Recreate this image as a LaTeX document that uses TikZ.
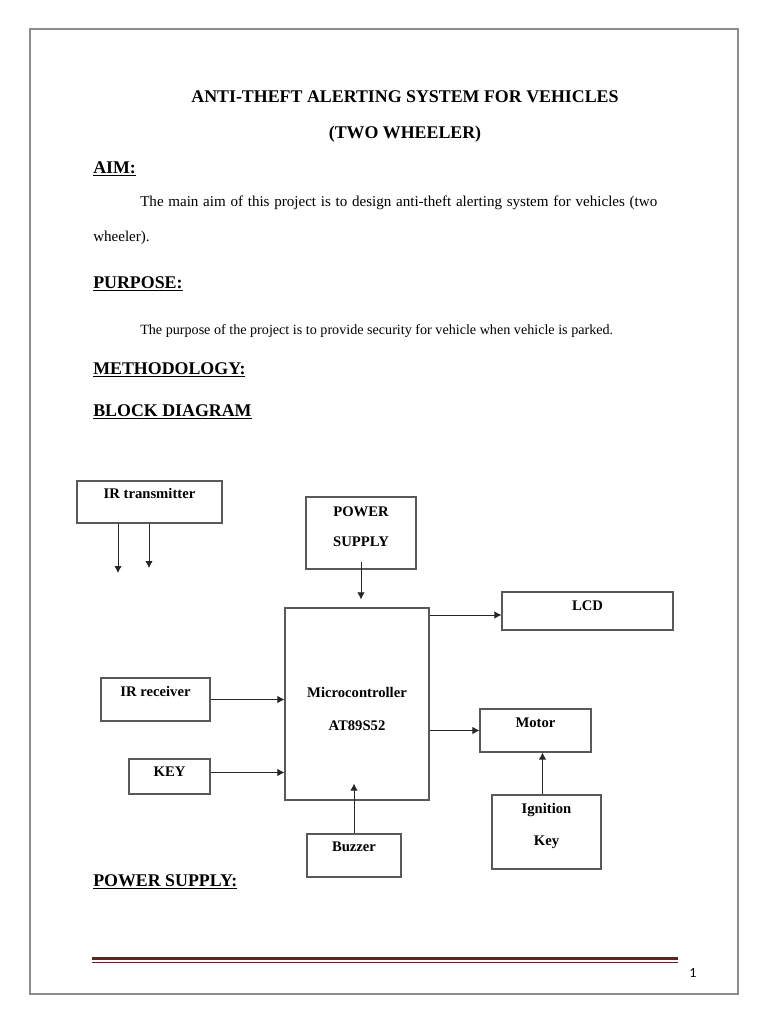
\documentclass[tikz,border=0pt]{standalone}
\usepackage{fontspec}
\setmainfont{Liberation Serif}
\newfontfamily\pagefont{Carlito}
\usepackage{xcolor}
\usetikzlibrary{arrows}
\usetikzlibrary{arrows.meta}
\usetikzlibrary{positioning}
\usetikzlibrary{calc}
\definecolor{footred}{HTML}{622423}
\tikzstyle{line} = [draw, -{Latex[length=5.25pt, width=5.5pt]}]

\begin{document}
\begin{tikzpicture}[x=0.75pt, y=-0.75pt,
		box/.style={draw=black!65, line width=0.8pt, rectangle, inner sep=0pt},
		lbl/.style={font=\fontsize{11}{13}\selectfont\bfseries, anchor=base, inner sep=0pt},
		head/.style={font=\fontsize{13.4}{15}\selectfont\bfseries, anchor=base west, inner sep=0pt},
		body/.style={font=\fontsize{11.3}{13}\selectfont, anchor=base west, inner sep=0pt},
		small/.style={body, font=\fontsize{10.6}{13}\selectfont},
		conn/.style={line, black!85, line width=0.6pt}]
		\useasboundingbox (0,0) rectangle (768,1024);
		%% Page
		\draw [black!45, line width=1.1pt] (30,29) rectangle (738,994);
		\node [head, anchor=base] (title) at (405,103) {ANTI-THEFT ALERTING SYSTEM FOR VEHICLES};
		\node [head, anchor=base] (subtitle) at (405,138) {(TWO WHEELER)};
		\node [head] (aim) at (93,173) {\underline{AIM:}};
		\node [body] (aimA) at (140,206) {\makebox[387.75pt][s]{The main aim of this project is to design anti-theft alerting system for vehicles (two}};
		\node [body] (aimB) at (93,241) {wheeler).};
		\node [head] (purpose) at (93,288) {\underline{PURPOSE:}};
		\node [small] (purposeA) at (140,334) {The purpose of the project is to provide security for vehicle when vehicle is parked.};
		\node [head] (method) at (93,374) {\underline{METHODOLOGY:}};
		\node [head] (block) at (93,416) {\underline{BLOCK DIAGRAM}};
		\node [head] (power) at (93,886) {\underline{POWER SUPPLY:}};
		%% Blocks
		\node [box, minimum width=108.75pt, minimum height=31.5pt] at (149.5,502) (irtx) {};
		\node [box, minimum width=82.5pt, minimum height=54pt] at (361,533) (pwr) {};
		\node [box, minimum width=108pt, minimum height=144pt] at (357,704) (mcu) {};
		\node [box, minimum width=128.25pt, minimum height=28.5pt] at (587.5,611) (lcd) {};
		\node [box, minimum width=81.75pt, minimum height=32.25pt] at (155.5,699.5) (irrx) {};
		\node [box, minimum width=60.75pt, minimum height=26.25pt] at (169.5,776.5) (key) {};
		\node [box, minimum width=70.5pt, minimum height=32.25pt] at (354,855.5) (buz) {};
		\node [box, minimum width=83.25pt, minimum height=32.25pt] at (535.5,730.5) (motor) {};
		\node [box, minimum width=81.75pt, minimum height=55.5pt] at (546.5,832) (ign) {};
		%% Block texts
		\node [lbl] at ($(irtx.north)+(0,18)$) (irtxT) {IR transmitter};
		\node [lbl] at ($(pwr.north)+(0,20)$) (pwrT) {POWER};
		\node [lbl] at ($(pwr.north)+(0,50)$) (pwrB) {SUPPLY};
		\node [lbl] at ($(mcu.north)+(0,90)$) (mcuT) {Microcontroller};
		\node [lbl] at ($(mcu.north)+(0,123)$) (mcuB) {AT89S52};
		\node [lbl] at ($(lcd.north)+(0,19)$) (lcdT) {LCD};
		\node [lbl] at ($(irrx.north)+(0,19)$) (irrxT) {IR receiver};
		\node [lbl] at ($(key.north)+(0,18)$) (keyT) {KEY};
		\node [lbl] at ($(buz.north)+(0,18)$) (buzT) {Buzzer};
		\node [lbl] at ($(motor.north)+(0,19)$) (motorT) {Motor};
		\node [lbl] at ($(ign.north)+(0,19)$) (ignT) {Ignition};
		\node [lbl] at ($(ign.north)+(0,51)$) (ignB) {Key};
		%% Flows
		\coordinate (txA) at (118,573);
		\coordinate (txB) at (149,568);
		\path [conn] (irtx.south -| txA) -- (txA);
		\path [conn] (irtx.south -| txB) -- (txB);
		\path [conn] ($(pwr.south)+(0,-8)$) -- ($(pwr.south |- mcu.north)+(0,-8)$);
		\path [conn] ($(mcu.east |- lcd.west)+(0,4)$) -- ($(lcd.west)+(0,4)$);
		\path [conn] (irrx.east) -- (irrx.east -| mcu.west);
		\path [conn] ($(key.east)+(0,-4)$) -- ($(key.east -| mcu.west)+(0,-4)$);
		\path [conn] (mcu.east |- motor.west) -- (motor.west);
		\path [conn] (buz.north) -- ($(buz.north |- mcu.south)+(0,-17)$);
		\path [conn] ($(ign.north)+(-4,0)$) -- ($(ign.north |- motor.south)+(-4,0)$);
		%% Footer
		\draw [footred, line width=2.25pt] (92,958) -- (678,958);
		\draw [footred, line width=0.75pt] (92,962.5) -- (678,962.5);
		\node [font=\pagefont\fontsize{10.5}{12}\selectfont, anchor=base, inner sep=0pt] (page) at (693,977) {1};
\end{tikzpicture}
\end{document}
